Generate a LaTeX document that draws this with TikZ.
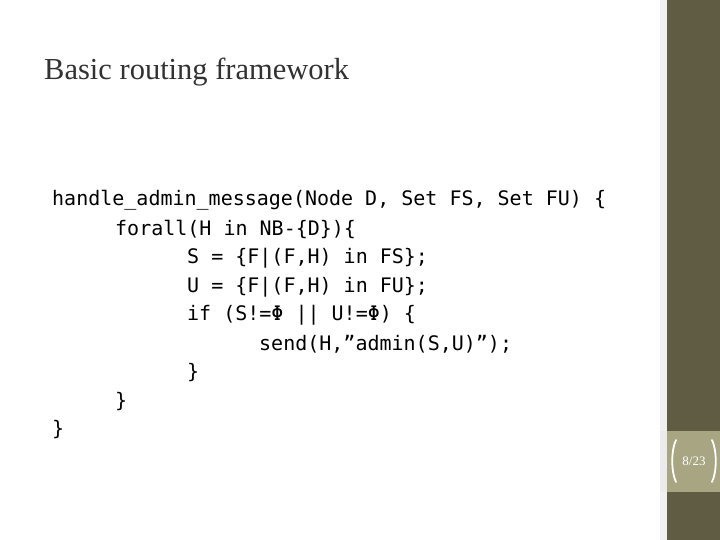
\documentclass[tikz,border=0pt]{standalone}
\usepackage{fontspec}
\setmainfont{Liberation Serif}
\setmonofont{DejaVu Sans Mono}
\begin{document}
\begin{tikzpicture}[x=1pt,y=-1pt,
  code/.style={anchor=west,inner sep=0pt,font=\ttfamily\fontsize{20}{20}\selectfont,text=black}]
\useasboundingbox (0,0) rectangle (720,540);
\fill[white] (0,0) rectangle (720,540);
\fill[black!6] (660,0) rectangle (667,540);
\fill[black!8] (660,431) rectangle (667,492);
\fill[fill={rgb,255:red,96;green,91;blue,67}] (667,0) rectangle (720,540);
\fill[fill={rgb,255:red,168;green,165;blue,130}] (667,431) rectangle (720,492);
\node[anchor=base west,inner sep=0pt,font=\fontsize{30.5}{32}\selectfont,text={rgb,255:red,50;green,50;blue,50}] (title) at (44,80) {Basic routing framework};
\node[code] (l1) at (52,200) {handle\_admin\_message(Node D, Set FS, Set FU) \{};
\node[code] (l2) at (115,229) {forall(H in NB-\{D\})\{};
\node[code] (l3) at (187,258) {S = \{F|(F,H) in FS\};};
\node[code] (l4) at (187,287) {U = \{F|(F,H) in FU\};};
\node[code] (l5) at (187,315) {if (S!=Φ || U!=Φ) \{};
\node[code] (l6) at (259,344) {send(H,”admin(S,U)”);};
\node[code] (l7) at (187,373) {\}};
\node[code] (l8) at (115,402) {\}};
\node[code] (l9) at (52,430) {\}};
\node[font=\fontsize{13}{14}\selectfont,text=white] (pg) at (694,461) {8/23};
\draw[white,line width=1.8pt,line cap=round] (676,440) .. controls (671,450) and (671,472) .. (676,482);
\draw[white,line width=1.8pt,line cap=round] (712,440) .. controls (717,450) and (717,472) .. (712,482);
\end{tikzpicture}
\end{document}
